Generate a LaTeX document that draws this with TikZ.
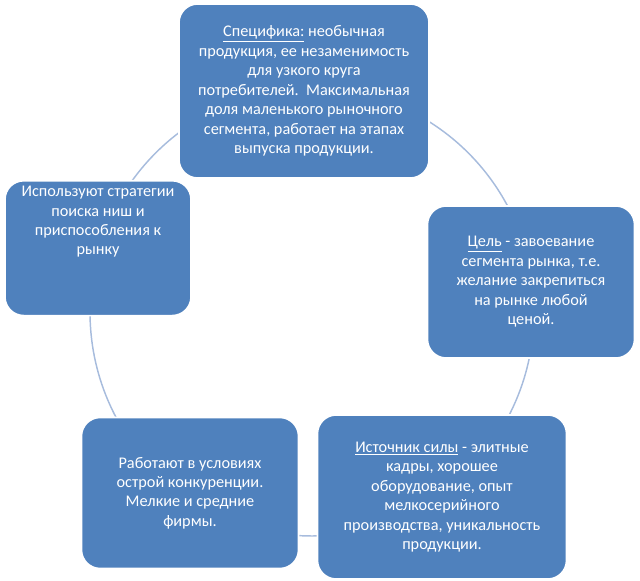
\documentclass[tikz,border=0pt]{standalone}
\usepackage{fontspec}
\setmainfont{Carlito}
\definecolor{boxblue}{HTML}{4F81BD}
\definecolor{ringc}{HTML}{A7BCDD}
\begin{document}
\begin{tikzpicture}[x=0.75pt,y=-0.75pt,
  cbox/.style={draw=white,line width=1.2pt,fill=boxblue,rounded corners=14pt,text=white,
    align=center,font=\fontsize{12.2}{14.6}\selectfont,inner sep=4pt}]
\useasboundingbox (0,0) rectangle (640,581);
\draw[ringc,line width=1.1pt] (312,312) ellipse (222 and 224);
\node[cbox,minimum width=250*0.75pt,minimum height=174*0.75pt] (a) at (304,91)
 {\underline{Специфика:} необычная\\ продукция, ее незаменимость\\ для узкого круга\\ потребителей.\ \ Максимальная\\ доля маленького рыночного\\ сегмента, работает на этапах\\ выпуска продукции.};
\node[cbox,minimum width=207*0.75pt,minimum height=152*0.75pt] (b) at (531,282)
 {\underline{Цель} - завоевание\\ сегмента рынка, т.е.\\ желание закрепиться\\ на рынке любой\\ ценой.};
\node[cbox,minimum width=249*0.75pt,minimum height=164*0.75pt] (c) at (442,497)
 {\underline{Источник силы} - элитные\\ кадры, хорошее\\ оборудование, опыт\\ мелкосерийного\\ производства, уникальность\\ продукции.};
\node[cbox,minimum width=217*0.75pt,minimum height=151*0.75pt] (d) at (190,493)
 {Работают в условиях\\ острой конкуренции.\\ Мелкие и средние\\ фирмы.};
\node[cbox,minimum width=186*0.75pt,minimum height=133*0.75pt,anchor=north] (e) at (98,180)
 {Используют стратегии\\ поиска ниш и\\ приспособления к\\ рынку\\[2.2em]};
\end{tikzpicture}
\end{document}
